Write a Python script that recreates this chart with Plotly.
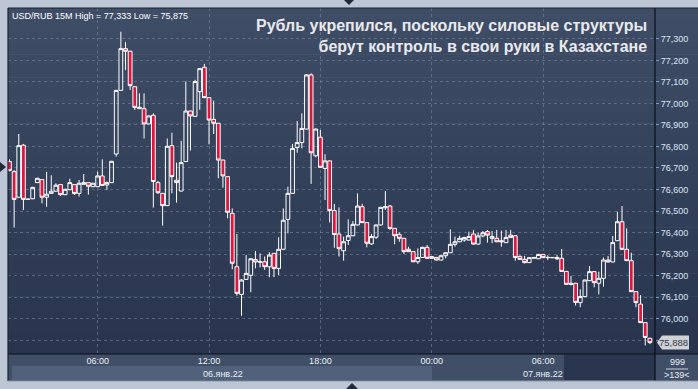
import plotly.graph_objects as go
import pandas as pd

# ---------------- data ----------------
start_time = "2022-01-06 01:15"
n_bars = 139

opens = [76.730,76.683,76.564,76.806,76.554,76.557,76.632,76.646,76.564,76.582,
         76.592,76.623,76.576,76.599,76.623,76.582,76.624,76.632,76.613,76.613,
         76.663,76.621,76.632,76.765,77.061,77.255,77.243,77.078,76.976,76.976,
         76.905,76.945,76.632,76.582,76.525,76.804,76.643,76.593,76.730,76.965,
         76.940,77.055,77.168,77.027,76.926,76.908,76.737,76.660,76.489,76.241,
         76.112,76.182,76.201,76.275,76.262,76.264,76.241,76.303,76.233,76.322,
         76.461,76.582,76.795,76.818,76.881,77.133,76.757,76.843,76.698,76.733,
         76.502,76.393,76.315,76.363,76.385,76.435,76.520,76.446,76.347,76.378,
         76.435,76.515,76.523,76.419,76.391,76.373,76.322,76.311,76.264,76.284,
         76.331,76.280,76.284,76.272,76.292,76.306,76.345,76.357,76.365,76.365,
         76.393,76.346,76.384,76.404,76.373,76.373,76.362,76.353,76.388,76.385,
         76.288,76.275,76.260,76.280,76.278,76.298,76.283,76.284,76.284,76.280,
         76.219,76.164,76.164,76.074,76.102,76.176,76.218,76.164,76.187,76.272,
         76.263,76.362,76.450,76.322,76.269,76.125,76.067,75.981,75.908]
highs = [76.740,76.690,76.858,76.812,76.556,76.612,76.654,76.649,76.682,76.666,
         76.629,76.626,76.603,76.650,76.625,76.644,76.672,76.634,76.631,76.683,
         76.740,76.637,76.733,77.063,77.334,77.285,77.245,77.080,77.047,77.047,
         76.944,76.954,76.640,76.584,76.837,76.864,76.725,76.826,77.102,76.967,
         77.110,77.164,77.184,77.029,77.013,76.910,76.739,76.662,76.512,76.393,
         76.184,76.295,76.280,76.314,76.303,76.288,76.308,76.305,76.378,76.512,
         76.613,76.812,76.919,76.954,77.137,77.140,76.884,76.877,76.764,76.735,
         76.533,76.517,76.381,76.461,76.453,76.582,76.533,76.448,76.393,76.437,
         76.519,76.593,76.528,76.421,76.400,76.375,76.334,76.313,76.326,76.334,
         76.342,76.290,76.286,76.294,76.308,76.415,76.381,76.385,76.379,76.404,
         76.412,76.399,76.407,76.412,76.407,76.412,76.409,76.412,76.412,76.387,
         76.295,76.291,76.285,76.286,76.301,76.300,76.294,76.286,76.295,76.323,
         76.221,76.198,76.166,76.136,76.181,76.244,76.220,76.218,76.284,76.291,
         76.384,76.497,76.523,76.419,76.306,76.127,76.109,75.983,75.910]
lows = [76.685,76.423,76.560,76.505,76.552,76.555,76.630,76.536,76.520,76.580,
        76.590,76.570,76.574,76.597,76.575,76.567,76.622,76.576,76.611,76.611,
        76.617,76.598,76.630,76.753,77.059,77.156,77.063,76.970,76.974,76.837,
        76.903,76.516,76.580,76.432,76.523,76.582,76.539,76.591,76.728,76.781,
        76.938,76.971,77.025,76.810,76.858,76.652,76.609,76.466,76.229,76.106,
        76.013,76.180,76.122,76.233,76.238,76.226,76.192,76.192,76.202,76.320,
        76.396,76.580,76.771,76.791,76.879,76.626,76.750,76.701,76.551,76.447,
        76.329,76.288,76.269,76.342,76.383,76.433,76.444,76.331,76.342,76.370,
        76.433,76.505,76.412,76.345,76.357,76.300,76.309,76.262,76.254,76.282,
        76.278,76.278,76.270,76.270,76.280,76.304,76.334,76.355,76.357,76.363,
        76.344,76.344,76.378,76.353,76.350,76.355,76.334,76.351,76.375,76.269,
        76.273,76.256,76.258,76.278,76.276,76.281,76.272,76.281,76.272,76.217,
        76.157,76.154,76.060,76.052,76.100,76.174,76.145,76.112,76.148,76.261,
        76.261,76.360,76.320,76.267,76.123,76.052,75.979,75.875,75.881]
closes = [76.688,76.554,76.804,76.554,76.555,76.610,76.652,76.564,76.578,76.592,
          76.620,76.576,76.601,76.632,76.581,76.629,76.632,76.615,76.629,76.663,
          76.619,76.632,76.731,77.061,77.255,77.243,77.083,76.982,76.982,76.905,
          76.942,76.637,76.585,76.525,76.801,76.660,76.632,76.725,76.965,76.942,
          77.102,77.162,77.027,76.923,76.908,76.737,76.663,76.494,76.257,76.117,
          76.179,76.210,76.278,76.263,76.264,76.241,76.295,76.233,76.322,76.457,
          76.582,76.791,76.818,76.884,77.133,76.771,76.881,76.703,76.733,76.502,
          76.391,76.325,76.357,76.385,76.438,76.523,76.446,76.350,76.381,76.435,
          76.517,76.520,76.419,76.385,76.373,76.311,76.311,76.264,76.284,76.331,
          76.280,76.288,76.272,76.292,76.306,76.345,76.357,76.373,76.377,76.381,
          76.346,76.384,76.399,76.388,76.381,76.357,76.357,76.377,76.377,76.284,
          76.275,76.260,76.283,76.284,76.298,76.283,76.284,76.283,76.278,76.219,
          76.159,76.159,76.075,76.102,76.179,76.218,76.167,76.187,76.272,76.263,
          76.353,76.450,76.322,76.269,76.125,76.074,75.981,75.912,75.888]

ytick_vals = [75.9, 76.0, 76.1, 76.2, 76.3, 76.4, 76.5, 76.6, 76.7, 76.8, 76.9, 77.0, 77.1, 77.2, 77.3]
xtick_vals = ["2022-01-06 06:00", "2022-01-06 12:00", "2022-01-06 18:00",
              "2022-01-07 00:00", "2022-01-07 06:00"]
xtick_labels = ["06:00", "12:00", "18:00", "00:00", "06:00"]
date_labels = ["06.янв.22", "07.янв.22"]
header = "USD/RUB 15M High = 77,333 Low = 75,875"
title_lines = ["Рубль укрепился, поскольку силовые структуры",
               "берут контроль в свои руки в Казахстане"]
last_price = 75.888
bars_label = ["999", ">139<"]

times = pd.date_range(start_time, periods=n_bars, freq="15min")
ytick_text = ["" if v < 75.95 else f"{v:,.3f}".replace(".", ",") for v in ytick_vals]

# ---------------- geometry helpers (pixel -> paper) ----------------
W, H = 698, 389
L, R, T, B = 8, 655, 8, 354
Y0, Y1 = 75.835, 77.444
def px(x):
    return (x - L) / (R - L)
def py(y):
    return (B - y) / (B - T)

shapes = []
def rect(x0, y0, x1, y1, color, layer="below", line=None):
    shapes.append(dict(type="rect", xref="paper", yref="paper",
                       x0=px(x0), x1=px(x1), y0=py(y1), y1=py(y0),
                       fillcolor=color, line=line or dict(width=0), layer=layer))

# gradient background (plot + right axis area)
top_c = (63, 77, 103)
bot_c = (40, 52, 78)
nb = 30
for k in range(nb):
    y0 = T + (B - T) * k / nb
    y1 = T + (B - T) * (k + 1) / nb + 0.5
    f = (k + 0.5) / nb
    c = tuple(int(round(top_c[j] + (bot_c[j] - top_c[j]) * f)) for j in range(3))
    rect(L, y0, W, y1, f"rgb{c}")

# bottom axis band
rect(L, B, W, 381, "rgb(64,78,103)")
rect(12, 366, 432, 380, "rgb(82,97,123)")
rect(564, B, R, 380, "rgb(42,54,80)")

# frame lines
def line(x0, y0, x1, y1, color="#0a0f18", w=1.2, layer="above"):
    shapes.append(dict(type="line", xref="paper", yref="paper",
                       x0=px(x0), x1=px(x1), y0=py(y0), y1=py(y1),
                       line=dict(color=color, width=w), layer=layer))
line(R, T, R, 381)
line(L, B, W, B)
line(L, T, L, 381, color="#1a2232")
line(L, T, W, T, color="#1a2232")
line(L, 381, W, 381, color="#8a96a8", w=1)

# separator in the bar counter box
line(666, 369, 688, 369, color="#c8d2de", w=1)

# small UI triangles
def tri(pts, color="#1f2a3a"):
    d = "M " + " L ".join(f"{px(a)},{py(b)}" for a, b in pts) + " Z"
    shapes.append(dict(type="path", xref="paper", yref="paper", path=d,
                       fillcolor=color, line=dict(width=0), layer="above"))
tri([(344, 0), (354, 0), (349, 5)])
tri([(346, 389), (358, 389), (352, 383)])
tri([(0, 162), (0, 172), (6, 167)])

# last-price label
yl = B - (last_price - Y0) / (Y1 - Y0) * (B - T)
tri([(657, yl), (662, yl - 7), (689, yl - 7), (689, yl + 7), (662, yl + 7)], color="#cfd3d8")

fig = go.Figure()
fig.add_trace(go.Candlestick(
    x=times, open=opens, high=highs, low=lows, close=closes,
    increasing=dict(line=dict(color="#ffffff", width=1), fillcolor="rgba(0,0,0,0)"),
    decreasing=dict(line=dict(color="#ffffff", width=1), fillcolor="#e0143c"),
    whiskerwidth=0, showlegend=False, hoverinfo="skip",
))

annotations = [
    dict(text=header, xref="paper", yref="paper", x=px(10), y=py(9),
         xanchor="left", yanchor="top", showarrow=False,
         font=dict(family="Liberation Sans, Arial", size=9, color="#ffffff")),
    dict(text="<br>".join(title_lines), xref="paper", yref="paper",
         x=px(649), y=py(15), xanchor="right", yanchor="top", align="right",
         showarrow=False,
         font=dict(family="Liberation Sans, Arial", size=16, color="#e9e9ec", weight="bold")),
    dict(text=date_labels[0], xref="paper", yref="paper", x=px(223), y=py(374),
         xanchor="center", yanchor="middle", showarrow=False,
         font=dict(family="Liberation Sans, Arial", size=9, color="#e8eef6")),
    dict(text=date_labels[1], xref="paper", yref="paper", x=px(543), y=py(374),
         xanchor="center", yanchor="middle", showarrow=False,
         font=dict(family="Liberation Sans, Arial", size=9, color="#e8eef6")),
    dict(text=f"{last_price:,.3f}".replace(".", ","), xref="paper", yref="paper",
         x=px(673), y=py(yl), xanchor="center", yanchor="middle", showarrow=False,
         font=dict(family="Liberation Sans, Arial", size=9.5, color="#333840")),
    dict(text=bars_label[0], xref="paper", yref="paper", x=px(677), y=py(362),
         xanchor="center", yanchor="middle", showarrow=False,
         font=dict(family="Liberation Sans, Arial", size=9, color="#e8eef6")),
    dict(text=bars_label[1], xref="paper", yref="paper", x=px(677), y=py(375),
         xanchor="center", yanchor="middle", showarrow=False,
         font=dict(family="Liberation Sans, Arial", size=9, color="#e8eef6")),
]

grid_c = "rgba(125,140,170,0.55)"
fig.update_layout(
    width=W, height=H,
    margin=dict(l=L, r=W - R, t=T, b=H - B),
    paper_bgcolor="rgb(188,198,212)",
    plot_bgcolor="rgba(0,0,0,0)",
    boxgap=0.1, boxgroupgap=0.1,
    shapes=shapes, annotations=annotations,
    xaxis=dict(type="date", range=["2022-01-06 01:10:12", "2022-01-07 12:01:36"],
               rangeslider=dict(visible=False), tickvals=xtick_vals, ticktext=xtick_labels,
               showgrid=True, gridcolor=grid_c, griddash="3px,3px", gridwidth=1,
               zeroline=False, showline=False, ticks="",
               tickfont=dict(family="Liberation Sans, Arial", size=9, color="#eef2f8")),
    yaxis=dict(side="right", range=[Y0, Y1], tickvals=ytick_vals, ticktext=ytick_text,
               showgrid=True, gridcolor=grid_c, griddash="3px,3px", gridwidth=1,
               zeroline=False, showline=False, ticks="outside", ticklen=3,
               tickcolor="#7f9cc8",
               tickfont=dict(family="Liberation Sans, Arial", size=9, color="#dce6f2")),
    font=dict(family="Liberation Sans, Arial"),
)

fig.write_html("out.html", config={"displayModeBar": False},
               post_script="document.body.style.margin='0px';document.body.style.overflow='hidden';")
